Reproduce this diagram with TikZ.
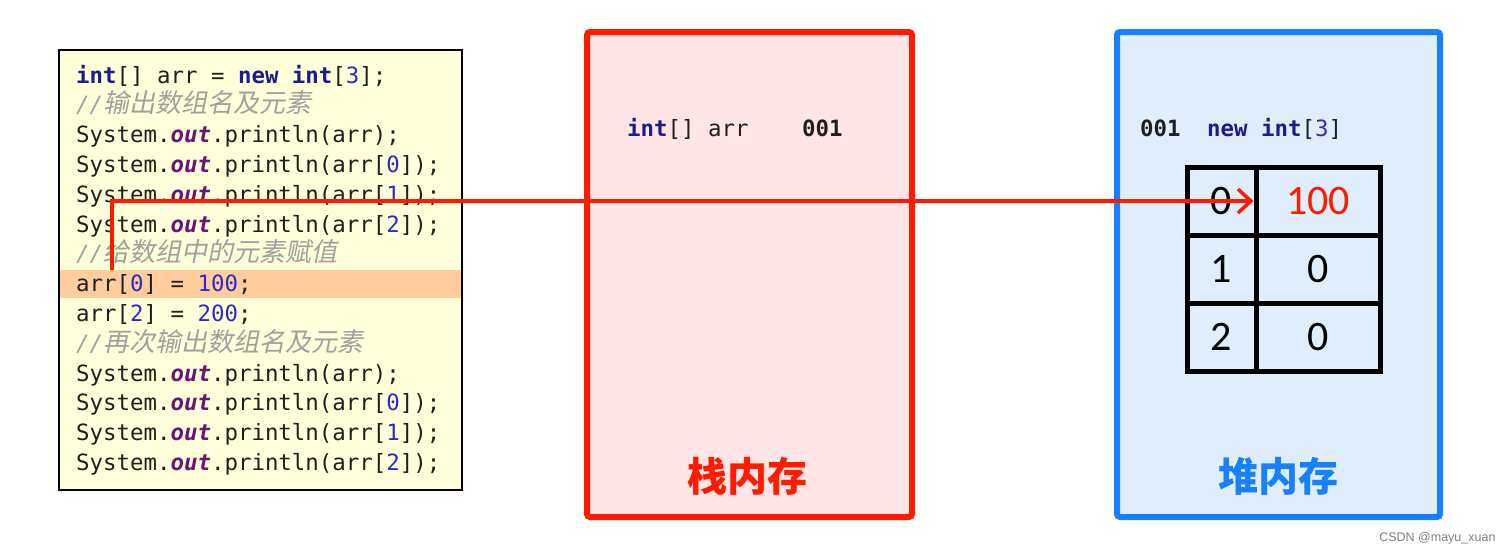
\documentclass[tikz,border=0pt]{standalone}
\usepackage{fontspec}
\setmainfont{Carlito}
\setmonofont{DejaVu Sans Mono}
\newfontfamily\cjk{Noto Sans CJK SC}
\newfontfamily\cjkit[FakeSlant=0.2]{Noto Sans CJK SC}
\newfontfamily\wmfont{Liberation Sans}
\usetikzlibrary{arrows.meta}

\definecolor{codebg}{HTML}{FFFFD9}
\definecolor{hilite}{HTML}{FFCC9E}
\definecolor{kwblue}{HTML}{1C1C8C}
\definecolor{numblue}{HTML}{2A2ACF}
\definecolor{outpurple}{HTML}{6A1478}
\definecolor{cmtgray}{HTML}{A0A0A0}
\definecolor{stackred}{HTML}{FF1A00}
\definecolor{stackbg}{HTML}{FFE5E5}
\definecolor{heapblue}{HTML}{1680FF}
\definecolor{heapbg}{HTML}{E0EEFB}

\newcommand\kw[1]{\textcolor{kwblue}{\bfseries #1}}
\newcommand\num[1]{\textcolor{numblue}{#1}}
\newcommand\outf{\textcolor{outpurple}{\bfseries\itshape out}}
\newcommand\cmt[1]{\textcolor{cmtgray}{\itshape //{\cjkit\fontsize{26}{26}\selectfont #1}}}
\newcommand\codefont{\ttfamily\fontsize{22.4}{26}\selectfont}

\tikzset{
  codeline/.style={anchor=base west, inner sep=0pt, font=\codefont, text=black!88},
  membox/.style={rectangle, line width=6pt, rounded corners=3pt, minimum height=485pt},
  cell/.style={rectangle, draw, line width=5pt, inner sep=0pt, minimum height=68pt,
    font=\fontsize{42}{42}\selectfont},
  arrowline/.style={draw=stackred, line width=3.5pt, -{Straight Barb[length=13pt,width=24pt,line width=3.5pt]}},
  title/.style={font=\cjk\bfseries\fontsize{40}{40}\selectfont}
}

\begin{document}
\begin{tikzpicture}[x=1pt,y=-1pt]
  \useasboundingbox[fill=white] (0,0) rectangle (1509,554);

  % Code
  \node[rectangle, draw, line width=2pt, fill=codebg, minimum width=403pt,
    minimum height=440pt] (code) at (260.5,270) {};
  \fill[hilite] (60,270) rectangle (461,298);
  \foreach \txt [count=\i from 0] in {
    {\kw{int}[] arr = \kw{new} \kw{int}[\num{3}];},
    {\cmt{输出数组名及元素}},
    {System.\outf.println(arr);},
    {System.\outf.println(arr[\num{0}]);},
    {System.\outf.println(arr[\num{1}]);},
    {System.\outf.println(arr[\num{2}]);},
    {\cmt{给数组中的元素赋值}},
    {arr[\num{0}] = \num{100};},
    {arr[\num{2}] = \num{200};},
    {\cmt{再次输出数组名及元素}},
    {System.\outf.println(arr);},
    {System.\outf.println(arr[\num{0}]);},
    {System.\outf.println(arr[\num{1}]);},
    {System.\outf.println(arr[\num{2}]);}} {
    \node[codeline] (line\i) at (76,83+29.8*\i) {\txt};
  }

  % Stack
  \node[membox, draw=stackred, fill=stackbg, minimum width=325pt] (stack) at (749.5,274.5) {};
  \node[codeline] (svar) at (627,136) {\kw{int}[] arr};
  \node[codeline] (sref) at (802,136) {\bfseries 001};
  \node[title, text=stackred] (stacktitle) at (747,476) {栈内存};

  % Heap
  \node[membox, draw=heapblue, fill=heapbg, minimum width=323pt] (heap) at (1278.5,274.5) {};
  \node[codeline] (haddr) at (1140,136) {\bfseries 001};
  \node[codeline] (hnew) at (1207,136) {\kw{new} \kw{int}[\num{3}]};
  \node[title, text=heapblue] (heaptitle) at (1278,476) {堆内存};

  % Array cells
  \foreach \r/\v in {0/\textcolor{stackred}{100}, 1/0, 2/0} {
    \node[cell, minimum width=69pt] (i\r) at (1221.5,201+68*\r) {\r};
    \node[cell, minimum width=124pt] (v\r) at (1318,201+68*\r) {\v};
  }

  % Reference
  \coordinate (src) at (112,270);
  \draw[arrowline] (src) |- (v0.west);

  \node[anchor=east, text=black!50, font=\wmfont\fontsize{12.5}{13}\selectfont] (mark) at (1499,538) {CSDN @mayu\_xuan};
\end{tikzpicture}
\end{document}
